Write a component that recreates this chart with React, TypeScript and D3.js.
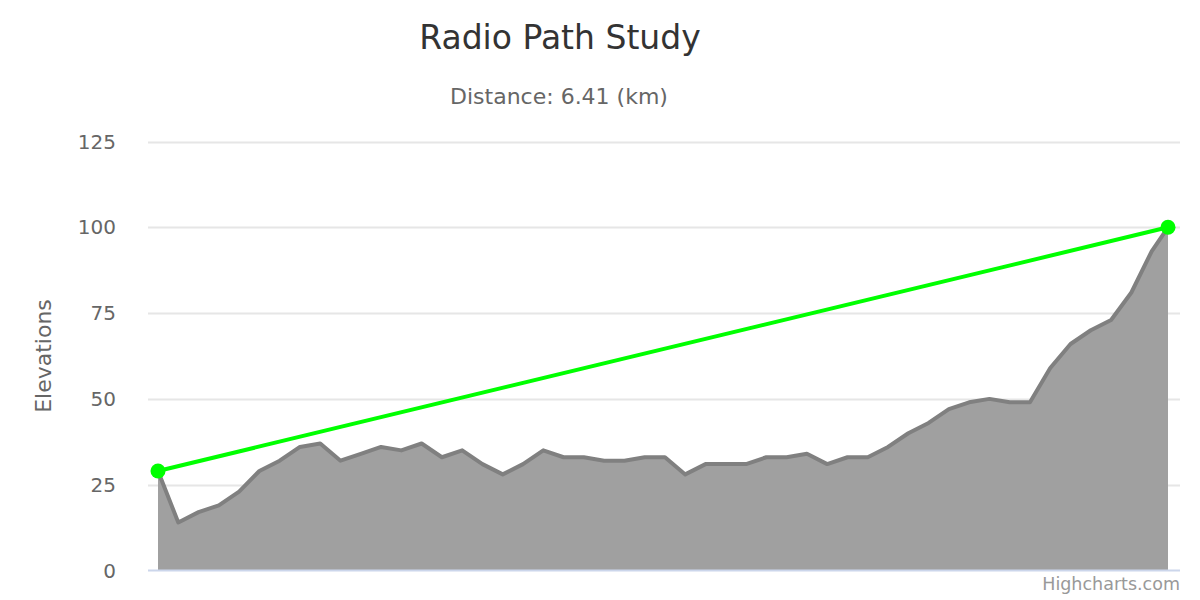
import React, { useEffect, useRef } from 'react';
import * as d3 from 'd3';

// terrain elevation samples along the path (m)
const elevations = [
  29, 14, 17, 19, 23, 29, 32, 36, 37, 32,
  34, 36, 35, 37, 33, 35, 31, 28, 31, 35,
  33, 33, 32, 32, 33, 33, 28, 31, 31, 31,
  33, 33, 34, 31, 33, 33, 36, 40, 43, 47,
  49, 50, 49, 49, 59, 66, 70, 73, 81, 93,
  100,
];
const sampleStepKm = 0.1287;
const totalKm = 6.41;

// line of sight between the two antennas
const sightLine = [
  { km: 0, elev: 29 },
  { km: 6.41, elev: 100 },
];

const yTicks = [0, 25, 50, 75, 100, 125];

const FONT = '"DejaVu Sans", "Lucida Grande", sans-serif';

const App: React.FC = () => {
  const svgRef = useRef<SVGSVGElement>(null);

  useEffect(() => {
    if (!svgRef.current) return;
    const svg = d3.select(svgRef.current);
    svg.selectAll('*').remove();

    const width = 1200;
    const height = 600;
    const plot = { left: 148, right: 1180, top: 141.5, bottom: 570.5 };

    const pts = elevations.map((e, i) => ({
      km: i === elevations.length - 1 ? totalKm : i * sampleStepKm,
      elev: e,
    }));

    const x = d3.scaleLinear().domain([0, totalKm]).range([158, 1168]);
    const y = d3.scaleLinear().domain([0, 125]).range([plot.bottom, plot.top]);

    svg.append('rect').attr('width', width).attr('height', height).attr('fill', '#ffffff');

    // grid
    svg.append('g')
      .selectAll('line')
      .data(yTicks.filter(t => t > 0))
      .enter()
      .append('line')
      .attr('x1', plot.left)
      .attr('x2', plot.right)
      .attr('y1', d => Math.round(y(d)) + 0.5)
      .attr('y2', d => Math.round(y(d)) + 0.5)
      .attr('stroke', '#e6e6e6')
      .attr('stroke-width', 2);

    // y labels
    svg.append('g')
      .selectAll('text')
      .data(yTicks)
      .enter()
      .append('text')
      .attr('x', 116)
      .attr('y', d => y(d) + 7)
      .attr('text-anchor', 'end')
      .attr('font-family', FONT)
      .attr('font-size', 20)
      .attr('fill', '#666666')
      .text(d => d);

    // terrain area
    const area = d3.area<{ km: number; elev: number }>()
      .x(d => x(d.km))
      .y0(y(0))
      .y1(d => y(d.elev));
    svg.append('path')
      .datum(pts)
      .attr('d', area)
      .attr('fill', '#a0a0a0');

    const line = d3.line<{ km: number; elev: number }>()
      .x(d => x(d.km))
      .y(d => y(d.elev));
    svg.append('path')
      .datum(pts)
      .attr('d', line)
      .attr('fill', 'none')
      .attr('stroke', '#808080')
      .attr('stroke-width', 4)
      .attr('stroke-linejoin', 'round');

    // x axis line
    svg.append('line')
      .attr('x1', plot.left)
      .attr('x2', plot.right)
      .attr('y1', plot.bottom)
      .attr('y2', plot.bottom)
      .attr('stroke', '#ccd6eb')
      .attr('stroke-width', 2);

    // line of sight
    svg.append('path')
      .datum(sightLine)
      .attr('d', line)
      .attr('fill', 'none')
      .attr('stroke', '#00ff00')
      .attr('stroke-width', 4);
    svg.append('g')
      .selectAll('circle')
      .data(sightLine)
      .enter()
      .append('circle')
      .attr('cx', d => x(d.km))
      .attr('cy', d => y(d.elev))
      .attr('r', 7.5)
      .attr('fill', '#00ff00');

    // titles
    svg.append('text')
      .attr('x', 560)
      .attr('y', 49)
      .attr('text-anchor', 'middle')
      .attr('font-family', FONT)
      .attr('font-size', 33)
      .attr('fill', '#333333')
      .text('Radio Path Study');

    svg.append('text')
      .attr('x', 559)
      .attr('y', 104)
      .attr('text-anchor', 'middle')
      .attr('font-family', FONT)
      .attr('font-size', 22)
      .attr('fill', '#666666')
      .text('Distance: 6.41 (km)');

    svg.append('text')
      .attr('transform', `translate(51,${(plot.top + plot.bottom) / 2}) rotate(-90)`)
      .attr('text-anchor', 'middle')
      .attr('font-family', FONT)
      .attr('font-size', 22)
      .attr('fill', '#666666')
      .text('Elevations');

    svg.append('text')
      .attr('x', 1180)
      .attr('y', 590)
      .attr('text-anchor', 'end')
      .attr('font-family', FONT)
      .attr('font-size', 17.5)
      .attr('fill', '#999999')
      .text('Highcharts.com');
  }, []);

  return (
    <div style={{ position: 'absolute', left: 0, top: 0, width: 1200, height: 600 }}>
      <svg ref={svgRef} width={1200} height={600}></svg>
    </div>
  );
};

export default App;
